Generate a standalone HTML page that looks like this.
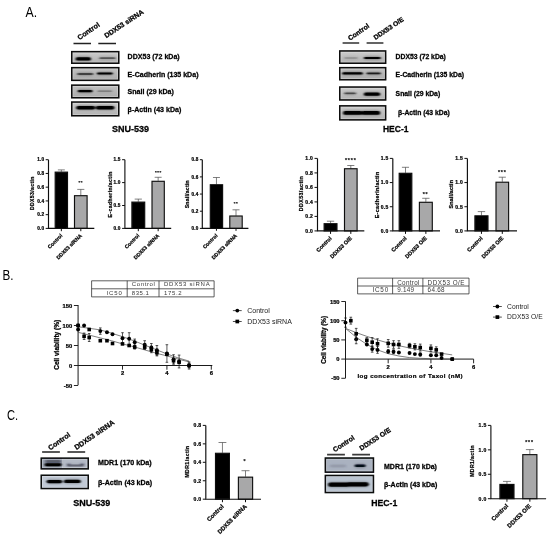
<!DOCTYPE html>
<html><head><meta charset="utf-8"><title>Figure</title>
<style>html,body{margin:0;padding:0;background:#fff}svg{display:block}</style></head>
<body>
<svg width="550" height="536" viewBox="0 0 550 536" font-family="Liberation Sans, Arial, sans-serif">
<defs><filter id="bl" x="-20%" y="-50%" width="140%" height="200%"><feGaussianBlur stdDeviation="1.1 0.42"/></filter><filter id="halo" x="-20%" y="-100%" width="140%" height="300%"><feGaussianBlur stdDeviation="1.6 0.9"/></filter><filter id="sb"><feGaussianBlur stdDeviation="0.35"/></filter><linearGradient id="g1" x1="0" y1="0" x2="0" y2="1"><stop offset="0" stop-color="#cecece"/><stop offset="1" stop-color="#b0b0b0"/></linearGradient><linearGradient id="g2" x1="0" y1="0" x2="0" y2="1"><stop offset="0" stop-color="#c4c4c4"/><stop offset="1" stop-color="#aaaaaa"/></linearGradient><linearGradient id="g3" x1="0" y1="0" x2="0" y2="1"><stop offset="0" stop-color="#d0d4d8"/><stop offset="1" stop-color="#c0c4c8"/></linearGradient></defs>
<rect width="550" height="536" fill="#fff"/>
<g filter="url(#sb)">
<text x="25.6" y="17" font-size="14.2" font-weight="normal" text-anchor="start" fill="#050505" font-family="Liberation Sans, sans-serif" textLength="11.6" lengthAdjust="spacingAndGlyphs">A.</text>
<text x="2.5" y="280.3" font-size="14.2" font-weight="normal" text-anchor="start" fill="#050505" font-family="Liberation Sans, sans-serif" textLength="11" lengthAdjust="spacingAndGlyphs">B.</text>
<text x="7" y="419.8" font-size="14.2" font-weight="normal" text-anchor="start" fill="#050505" font-family="Liberation Sans, sans-serif" textLength="11.2" lengthAdjust="spacingAndGlyphs">C.</text>
<path d="M73.5 43.5H91M98.3 43.5H116" stroke="#222" stroke-width="1.3"/>
<text x="79.5" y="40.2" font-size="7.1" font-weight="bold" text-anchor="start" fill="#050505" transform="rotate(-34.5 79.5 40.2)" stroke="#050505" stroke-width="0.27">Control</text>
<text x="106.2" y="38.2" font-size="7.0" font-weight="bold" text-anchor="start" fill="#050505" transform="rotate(-33.3 106.2 38.2)" stroke="#050505" stroke-width="0.27">DDX53 siRNA</text>
<clipPath id="bAc0"><rect x="71" y="50.9" width="48.5" height="13.1"/></clipPath>
<g clip-path="url(#bAc0)">
<rect x="71" y="50.9" width="48.5" height="13.1" fill="url(#g1)"/>
<g filter="url(#halo)">
<rect x="75.8" y="56.8" width="15.0" height="4.2" rx="2.1" fill="#000" opacity="0.35"/>
<rect x="99.4" y="56.85" width="15.9" height="2.7" rx="1.35" fill="#333" opacity="0.24"/>
</g><g filter="url(#bl)">
<rect x="75.8" y="57.3" width="15.0" height="3.2" rx="1.6" fill="#000" opacity="1"/>
<rect x="99.4" y="57.35" width="15.9" height="1.7" rx="0.85" fill="#333" opacity="0.7"/>
</g>
<rect x="72.9" y="52.8" width="44.7" height="9.3" fill="none" stroke="#fff" stroke-opacity="0.3" stroke-width="0.9"/>
</g>
<rect x="71.75" y="51.65" width="47.0" height="11.6" fill="none" stroke="#0a0a0a" stroke-width="1.5"/>
<clipPath id="bAc1"><rect x="71" y="66.9" width="48.5" height="14.2"/></clipPath>
<g clip-path="url(#bAc1)">
<rect x="71" y="66.9" width="48.5" height="14.2" fill="url(#g2)"/>
<g filter="url(#halo)">
<rect x="77.4" y="72.7" width="15.8" height="2.6" rx="1.3" fill="#111" opacity="0.3"/>
<rect x="97" y="71.9" width="15.6" height="3.0" rx="1.5" fill="#000" opacity="0.35"/>
</g><g filter="url(#bl)">
<rect x="77.4" y="73.2" width="15.8" height="1.6" rx="0.8" fill="#111" opacity="0.85"/>
<rect x="97" y="72.4" width="15.6" height="2.0" rx="1.0" fill="#000" opacity="1"/>
</g>
<rect x="72.9" y="68.8" width="44.7" height="10.4" fill="none" stroke="#fff" stroke-opacity="0.3" stroke-width="0.9"/>
</g>
<rect x="71.75" y="67.65" width="47.0" height="12.7" fill="none" stroke="#0a0a0a" stroke-width="1.5"/>
<clipPath id="bAc2"><rect x="71" y="84.4" width="48.5" height="14.1"/></clipPath>
<g clip-path="url(#bAc2)">
<rect x="71" y="84.4" width="48.5" height="14.1" fill="url(#g2)"/>
<g filter="url(#halo)">
<rect x="77.9" y="89.6" width="14.5" height="3.2" rx="1.6" fill="#000" opacity="0.35"/>
<rect x="97.6" y="90.05" width="14.4" height="2.3" rx="1.15" fill="#444" opacity="0.19"/>
</g><g filter="url(#bl)">
<rect x="77.9" y="90.1" width="14.5" height="2.2" rx="1.1" fill="#000" opacity="1"/>
<rect x="97.6" y="90.55" width="14.4" height="1.3" rx="0.65" fill="#444" opacity="0.55"/>
</g>
<rect x="72.9" y="86.3" width="44.7" height="10.3" fill="none" stroke="#fff" stroke-opacity="0.3" stroke-width="0.9"/>
</g>
<rect x="71.75" y="85.15" width="47.0" height="12.6" fill="none" stroke="#0a0a0a" stroke-width="1.5"/>
<clipPath id="bAc3"><rect x="71" y="101.3" width="48.5" height="15.2"/></clipPath>
<g clip-path="url(#bAc3)">
<rect x="71" y="101.3" width="48.5" height="15.2" fill="url(#g1)"/>
<g filter="url(#halo)">
<rect x="76.3" y="105.5" width="18.9" height="4.6" rx="2.3" fill="#000" opacity="0.35"/>
<rect x="95.8" y="105.55" width="18.5" height="4.5" rx="2.25" fill="#000" opacity="0.35"/>
</g><g filter="url(#bl)">
<rect x="76.3" y="106.0" width="18.9" height="3.6" rx="1.8" fill="#000" opacity="1"/>
<rect x="95.8" y="106.05" width="18.5" height="3.5" rx="1.75" fill="#000" opacity="1"/>
</g>
<rect x="72.9" y="103.2" width="44.7" height="11.4" fill="none" stroke="#fff" stroke-opacity="0.3" stroke-width="0.9"/>
</g>
<rect x="71.75" y="102.05" width="47.0" height="13.7" fill="none" stroke="#0a0a0a" stroke-width="1.5"/>
<text x="127.6" y="58.5" font-size="7.05" font-weight="bold" text-anchor="start" fill="#050505" stroke="#050505" stroke-width="0.27">DDX53 (72 kDa)</text>
<text x="127.6" y="76.5" font-size="7.05" font-weight="bold" text-anchor="start" fill="#050505" stroke="#050505" stroke-width="0.27">E-Cadherin (135 kDa)</text>
<text x="127.6" y="93.8" font-size="7.05" font-weight="bold" text-anchor="start" fill="#050505" stroke="#050505" stroke-width="0.27">Snail (29 kDa)</text>
<text x="127.6" y="111.7" font-size="7.05" font-weight="bold" text-anchor="start" fill="#050505" stroke="#050505" stroke-width="0.27">β-Actin (43 kDa)</text>
<text x="130.5" y="132" font-size="9" font-weight="bold" text-anchor="middle" fill="#050505" stroke="#050505" stroke-width="0.27">SNU-539</text>
<path d="M342.6 43H359.2M366.6 43H383.4" stroke="#333" stroke-width="1.5"/>
<text x="349.9" y="40.8" font-size="6.85" font-weight="bold" text-anchor="start" fill="#050505" transform="rotate(-34.5 349.9 40.8)" stroke="#050505" stroke-width="0.27">Control</text>
<text x="375.5" y="40" font-size="6.65" font-weight="bold" text-anchor="start" fill="#050505" transform="rotate(-34 375.5 40)" stroke="#050505" stroke-width="0.27">DDX53 O/E</text>
<clipPath id="bBc0"><rect x="339" y="50.2" width="47.4" height="13.8"/></clipPath>
<g clip-path="url(#bBc0)">
<rect x="339" y="50.2" width="47.4" height="13.8" fill="url(#g1)"/>
<g filter="url(#halo)">
<rect x="344.4" y="56.8" width="13.2" height="2.4" rx="1.2" fill="#555" opacity="0.14"/>
<rect x="364" y="56.4" width="16.6" height="3.2" rx="1.6" fill="#000" opacity="0.35"/>
</g><g filter="url(#bl)">
<rect x="344.4" y="57.3" width="13.2" height="1.4" rx="0.7" fill="#555" opacity="0.4"/>
<rect x="364" y="56.9" width="16.6" height="2.2" rx="1.1" fill="#000" opacity="1"/>
</g>
<rect x="340.9" y="52.1" width="43.6" height="10.0" fill="none" stroke="#fff" stroke-opacity="0.3" stroke-width="0.9"/>
</g>
<rect x="339.75" y="50.95" width="45.9" height="12.3" fill="none" stroke="#0a0a0a" stroke-width="1.5"/>
<clipPath id="bBc1"><rect x="339" y="66.9" width="47.4" height="13.6"/></clipPath>
<g clip-path="url(#bBc1)">
<rect x="339" y="66.9" width="47.4" height="13.6" fill="url(#g2)"/>
<g filter="url(#halo)">
<rect x="342.4" y="71.7" width="20.2" height="3.4" rx="1.7" fill="#000" opacity="0.35"/>
<rect x="366.7" y="72.0" width="13.9" height="2.8" rx="1.4" fill="#111" opacity="0.32"/>
</g><g filter="url(#bl)">
<rect x="342.4" y="72.2" width="20.2" height="2.4" rx="1.2" fill="#000" opacity="1"/>
<rect x="366.7" y="72.5" width="13.9" height="1.8" rx="0.9" fill="#111" opacity="0.9"/>
</g>
<rect x="340.9" y="68.8" width="43.6" height="9.8" fill="none" stroke="#fff" stroke-opacity="0.3" stroke-width="0.9"/>
</g>
<rect x="339.75" y="67.65" width="45.9" height="12.1" fill="none" stroke="#0a0a0a" stroke-width="1.5"/>
<clipPath id="bBc2"><rect x="339" y="86.3" width="47.4" height="14.4"/></clipPath>
<g clip-path="url(#bBc2)">
<rect x="339" y="86.3" width="47.4" height="14.4" fill="url(#g1)"/>
<g filter="url(#halo)">
<rect x="344.4" y="91.9" width="11.6" height="2.8" rx="1.4" fill="#222" opacity="0.24"/>
<rect x="364" y="92.05" width="16" height="4.3" rx="2.15" fill="#000" opacity="0.35"/>
</g><g filter="url(#bl)">
<rect x="344.4" y="92.4" width="11.6" height="1.8" rx="0.9" fill="#222" opacity="0.7"/>
<rect x="364" y="92.55" width="16" height="3.3" rx="1.65" fill="#000" opacity="1"/>
</g>
<rect x="340.9" y="88.2" width="43.6" height="10.6" fill="none" stroke="#fff" stroke-opacity="0.3" stroke-width="0.9"/>
</g>
<rect x="339.75" y="87.05" width="45.9" height="12.9" fill="none" stroke="#0a0a0a" stroke-width="1.5"/>
<clipPath id="bBc3"><rect x="339" y="105.1" width="47.4" height="15.5"/></clipPath>
<g clip-path="url(#bBc3)">
<rect x="339" y="105.1" width="47.4" height="15.5" fill="url(#g1)"/>
<g filter="url(#halo)">
<rect x="343.2" y="110.5" width="19.2" height="4.8" rx="2.4" fill="#000" opacity="0.35"/>
<rect x="361.6" y="110.5" width="18.4" height="4.8" rx="2.4" fill="#000" opacity="0.35"/>
</g><g filter="url(#bl)">
<rect x="343.2" y="111.0" width="19.2" height="3.8" rx="1.9" fill="#000" opacity="1"/>
<rect x="361.6" y="111.0" width="18.4" height="3.8" rx="1.9" fill="#000" opacity="1"/>
</g>
<rect x="340.9" y="107.0" width="43.6" height="11.7" fill="none" stroke="#fff" stroke-opacity="0.3" stroke-width="0.9"/>
</g>
<rect x="339.75" y="105.85" width="45.9" height="14.0" fill="none" stroke="#0a0a0a" stroke-width="1.5"/>
<text x="395.6" y="59" font-size="6.8" font-weight="bold" text-anchor="start" fill="#050505" stroke="#050505" stroke-width="0.27">DDX53 (72 kDa)</text>
<text x="395.6" y="76.5" font-size="6.8" font-weight="bold" text-anchor="start" fill="#050505" stroke="#050505" stroke-width="0.27">E-Cadherin (135 kDa)</text>
<text x="395.6" y="95.6" font-size="6.8" font-weight="bold" text-anchor="start" fill="#050505" stroke="#050505" stroke-width="0.27">Snail (29 kDa)</text>
<text x="398" y="115" font-size="6.8" font-weight="bold" text-anchor="start" fill="#050505" stroke="#050505" stroke-width="0.27">β-Actin (43 kDa)</text>
<text x="395.7" y="131.8" font-size="8.5" font-weight="bold" text-anchor="middle" fill="#050505" stroke="#050505" stroke-width="0.27">HEC-1</text>
<path d="M61.349999999999994 171.7225V169.9M57.87 169.9H64.83" stroke="#4a4a4a" stroke-width="0.7" fill="none"/>
<rect x="55.2" y="172.12" width="12.3" height="56.28" fill="#000" stroke="#111" stroke-width="1.15"/>
<path d="M80.80000000000001 195.2866V189.4M77.24000000000001 189.4H84.36000000000001" stroke="#4a4a4a" stroke-width="0.7" fill="none"/>
<rect x="74.5" y="195.69" width="12.6" height="32.71" fill="#a8a8a9" stroke="#111" stroke-width="1.15"/>
<path d="M48.5 159.7V228.4H94.3" stroke="#111" stroke-width="1.15" fill="none"/>
<path d="M45.7 228.4H48.5" stroke="#111" stroke-width="1"/>
<text x="44.300000000000004" y="230.092" font-size="4.7" font-weight="bold" text-anchor="end" fill="#050505" letter-spacing="0.2" stroke="#050505" stroke-width="0.24">0.0</text>
<path d="M45.7 214.66H48.5" stroke="#111" stroke-width="1"/>
<text x="44.300000000000004" y="216.352" font-size="4.7" font-weight="bold" text-anchor="end" fill="#050505" letter-spacing="0.2" stroke="#050505" stroke-width="0.24">0.2</text>
<path d="M45.7 200.92H48.5" stroke="#111" stroke-width="1"/>
<text x="44.300000000000004" y="202.612" font-size="4.7" font-weight="bold" text-anchor="end" fill="#050505" letter-spacing="0.2" stroke="#050505" stroke-width="0.24">0.4</text>
<path d="M45.7 187.18H48.5" stroke="#111" stroke-width="1"/>
<text x="44.300000000000004" y="188.872" font-size="4.7" font-weight="bold" text-anchor="end" fill="#050505" letter-spacing="0.2" stroke="#050505" stroke-width="0.24">0.6</text>
<path d="M45.7 173.44H48.5" stroke="#111" stroke-width="1"/>
<text x="44.300000000000004" y="175.132" font-size="4.7" font-weight="bold" text-anchor="end" fill="#050505" letter-spacing="0.2" stroke="#050505" stroke-width="0.24">0.8</text>
<path d="M45.7 159.7H48.5" stroke="#111" stroke-width="1"/>
<text x="44.300000000000004" y="161.392" font-size="4.7" font-weight="bold" text-anchor="end" fill="#050505" letter-spacing="0.2" stroke="#050505" stroke-width="0.24">1.0</text>
<path d="M61.349999999999994 228.4V231.20000000000002" stroke="#111" stroke-width="1"/>
<text x="62.849999999999994" y="236.0" font-size="5.2" font-weight="bold" text-anchor="end" fill="#050505" transform="rotate(-45 62.849999999999994 236.0)" stroke="#050505" stroke-width="0.24">Control</text>
<path d="M80.80000000000001 228.4V231.20000000000002" stroke="#111" stroke-width="1"/>
<text x="82.30000000000001" y="236.0" font-size="5.2" font-weight="bold" text-anchor="end" fill="#050505" transform="rotate(-45 82.30000000000001 236.0)" stroke="#050505" stroke-width="0.24">DDX53 siRNA</text>
<text x="33.6" y="210" font-size="5.1" font-weight="bold" text-anchor="start" fill="#050505" transform="rotate(-90 33.6 210)" textLength="33.5" lengthAdjust="spacing" stroke="#050505" stroke-width="0.24">DDX53/actin</text>
<text x="80.8" y="183.6" font-size="4.4" font-weight="bold" text-anchor="middle" fill="#222" letter-spacing="0.5" stroke="#222" stroke-width="0.24">**</text>
<path d="M138.3 201.6986V199.1M134.68 199.1H141.92000000000002" stroke="#4a4a4a" stroke-width="0.7" fill="none"/>
<rect x="131.9" y="202.1" width="12.8" height="26.3" fill="#000" stroke="#111" stroke-width="1.15"/>
<path d="M158.14999999999998 180.9054V177.3M154.67 177.3H161.62999999999997" stroke="#4a4a4a" stroke-width="0.7" fill="none"/>
<rect x="152.0" y="181.31" width="12.3" height="47.09" fill="#a8a8a9" stroke="#111" stroke-width="1.15"/>
<path d="M124.9 159.7V228.4H171.2" stroke="#111" stroke-width="1.15" fill="none"/>
<path d="M122.10000000000001 228.4H124.9" stroke="#111" stroke-width="1"/>
<text x="120.70000000000002" y="230.092" font-size="4.7" font-weight="bold" text-anchor="end" fill="#050505" letter-spacing="0.2" stroke="#050505" stroke-width="0.24">0.0</text>
<path d="M122.10000000000001 205.5H124.9" stroke="#111" stroke-width="1"/>
<text x="120.70000000000002" y="207.192" font-size="4.7" font-weight="bold" text-anchor="end" fill="#050505" letter-spacing="0.2" stroke="#050505" stroke-width="0.24">0.5</text>
<path d="M122.10000000000001 182.6H124.9" stroke="#111" stroke-width="1"/>
<text x="120.70000000000002" y="184.292" font-size="4.7" font-weight="bold" text-anchor="end" fill="#050505" letter-spacing="0.2" stroke="#050505" stroke-width="0.24">1.0</text>
<path d="M122.10000000000001 159.7H124.9" stroke="#111" stroke-width="1"/>
<text x="120.70000000000002" y="161.392" font-size="4.7" font-weight="bold" text-anchor="end" fill="#050505" letter-spacing="0.2" stroke="#050505" stroke-width="0.24">1.5</text>
<path d="M138.3 228.4V231.20000000000002" stroke="#111" stroke-width="1"/>
<text x="139.8" y="236.0" font-size="5.2" font-weight="bold" text-anchor="end" fill="#050505" transform="rotate(-45 139.8 236.0)" stroke="#050505" stroke-width="0.24">Control</text>
<path d="M158.14999999999998 228.4V231.20000000000002" stroke="#111" stroke-width="1"/>
<text x="159.64999999999998" y="236.0" font-size="5.2" font-weight="bold" text-anchor="end" fill="#050505" transform="rotate(-45 159.64999999999998 236.0)" stroke="#050505" stroke-width="0.24">DDX53 siRNA</text>
<text x="111.8" y="217.4" font-size="5.1" font-weight="bold" text-anchor="start" fill="#050505" transform="rotate(-90 111.8 217.4)" textLength="45.8" lengthAdjust="spacing" stroke="#050505" stroke-width="0.24">E-cadherin/actin</text>
<text x="158.3" y="174.2" font-size="4.4" font-weight="bold" text-anchor="middle" fill="#222" letter-spacing="0.5" stroke="#222" stroke-width="0.24">***</text>
<path d="M216.45 184.346125V177.5M212.97 177.5H219.92999999999998" stroke="#4a4a4a" stroke-width="0.7" fill="none"/>
<rect x="210.3" y="184.75" width="12.3" height="43.65" fill="#000" stroke="#111" stroke-width="1.15"/>
<path d="M236.0 215.604625V209.8M232.49 209.8H239.51" stroke="#4a4a4a" stroke-width="0.7" fill="none"/>
<rect x="229.8" y="216.0" width="12.4" height="12.4" fill="#a8a8a9" stroke="#111" stroke-width="1.15"/>
<path d="M202.3 159.7V228.4H248.4" stroke="#111" stroke-width="1.15" fill="none"/>
<path d="M199.9 228.4H202.3" stroke="#111" stroke-width="1"/>
<text x="198.5" y="230.056" font-size="4.6" font-weight="bold" text-anchor="end" fill="#050505" letter-spacing="0.2" stroke="#050505" stroke-width="0.24">0.0</text>
<path d="M199.9 211.225H202.3" stroke="#111" stroke-width="1"/>
<text x="198.5" y="212.881" font-size="4.6" font-weight="bold" text-anchor="end" fill="#050505" letter-spacing="0.2" stroke="#050505" stroke-width="0.24">0.2</text>
<path d="M199.9 194.05H202.3" stroke="#111" stroke-width="1"/>
<text x="198.5" y="195.70600000000002" font-size="4.6" font-weight="bold" text-anchor="end" fill="#050505" letter-spacing="0.2" stroke="#050505" stroke-width="0.24">0.4</text>
<path d="M199.9 176.875H202.3" stroke="#111" stroke-width="1"/>
<text x="198.5" y="178.531" font-size="4.6" font-weight="bold" text-anchor="end" fill="#050505" letter-spacing="0.2" stroke="#050505" stroke-width="0.24">0.6</text>
<path d="M199.9 159.7H202.3" stroke="#111" stroke-width="1"/>
<text x="198.5" y="161.356" font-size="4.6" font-weight="bold" text-anchor="end" fill="#050505" letter-spacing="0.2" stroke="#050505" stroke-width="0.24">0.8</text>
<path d="M216.45 228.4V230.8" stroke="#111" stroke-width="1"/>
<text x="217.95" y="236.0" font-size="5.2" font-weight="bold" text-anchor="end" fill="#050505" transform="rotate(-45 217.95 236.0)" stroke="#050505" stroke-width="0.24">Control</text>
<path d="M236.0 228.4V230.8" stroke="#111" stroke-width="1"/>
<text x="237.5" y="236.0" font-size="5.2" font-weight="bold" text-anchor="end" fill="#050505" transform="rotate(-45 237.5 236.0)" stroke="#050505" stroke-width="0.24">DDX53 siRNA</text>
<text x="189.3" y="208.3" font-size="5.1" font-weight="bold" text-anchor="start" fill="#050505" transform="rotate(-90 189.3 208.3)" textLength="28" lengthAdjust="spacing" stroke="#050505" stroke-width="0.24">Snail/actin</text>
<text x="236" y="204.8" font-size="4.4" font-weight="bold" text-anchor="middle" fill="#222" letter-spacing="0.5" stroke="#222" stroke-width="0.24">**</text>
<path d="M330.55 223.2875V221.2M326.90000000000003 221.2H334.2" stroke="#4a4a4a" stroke-width="0.7" fill="none"/>
<rect x="324.1" y="223.69" width="12.9" height="7.21" fill="#000" stroke="#111" stroke-width="1.15"/>
<path d="M350.79999999999995 168.3325V165.5M347.23999999999995 165.5H354.35999999999996" stroke="#4a4a4a" stroke-width="0.7" fill="none"/>
<rect x="344.5" y="168.73" width="12.6" height="62.17" fill="#a8a8a9" stroke="#111" stroke-width="1.15"/>
<path d="M317.5 158.4V230.9H364.3" stroke="#111" stroke-width="1.15" fill="none"/>
<path d="M314.5 230.9H317.5" stroke="#111" stroke-width="1"/>
<text x="313.2" y="232.70000000000002" font-size="5.0" font-weight="bold" text-anchor="end" fill="#050505" letter-spacing="0.3" stroke="#050505" stroke-width="0.24">0.0</text>
<path d="M314.5 216.4H317.5" stroke="#111" stroke-width="1"/>
<text x="313.2" y="218.20000000000002" font-size="5.0" font-weight="bold" text-anchor="end" fill="#050505" letter-spacing="0.3" stroke="#050505" stroke-width="0.24">0.2</text>
<path d="M314.5 201.9H317.5" stroke="#111" stroke-width="1"/>
<text x="313.2" y="203.70000000000002" font-size="5.0" font-weight="bold" text-anchor="end" fill="#050505" letter-spacing="0.3" stroke="#050505" stroke-width="0.24">0.4</text>
<path d="M314.5 187.4H317.5" stroke="#111" stroke-width="1"/>
<text x="313.2" y="189.20000000000002" font-size="5.0" font-weight="bold" text-anchor="end" fill="#050505" letter-spacing="0.3" stroke="#050505" stroke-width="0.24">0.6</text>
<path d="M314.5 172.9H317.5" stroke="#111" stroke-width="1"/>
<text x="313.2" y="174.70000000000002" font-size="5.0" font-weight="bold" text-anchor="end" fill="#050505" letter-spacing="0.3" stroke="#050505" stroke-width="0.24">0.8</text>
<path d="M314.5 158.4H317.5" stroke="#111" stroke-width="1"/>
<text x="313.2" y="160.20000000000002" font-size="5.0" font-weight="bold" text-anchor="end" fill="#050505" letter-spacing="0.3" stroke="#050505" stroke-width="0.24">1.0</text>
<path d="M330.55 230.9V233.9" stroke="#111" stroke-width="1"/>
<text x="332.15000000000003" y="238.70000000000002" font-size="5.45" font-weight="bold" text-anchor="end" fill="#050505" transform="rotate(-45 332.15000000000003 238.70000000000002)" stroke="#050505" stroke-width="0.24">Control</text>
<path d="M350.79999999999995 230.9V233.9" stroke="#111" stroke-width="1"/>
<text x="352.4" y="238.70000000000002" font-size="5.45" font-weight="bold" text-anchor="end" fill="#050505" transform="rotate(-45 352.4 238.70000000000002)" stroke="#050505" stroke-width="0.24">DDX53 O/E</text>
<text x="303.5" y="211.2" font-size="5.3" font-weight="bold" text-anchor="start" fill="#050505" transform="rotate(-90 303.5 211.2)" textLength="34.9" lengthAdjust="spacing" stroke="#050505" stroke-width="0.24">DDX53/actin</text>
<text x="350.8" y="162" font-size="5.2" font-weight="bold" text-anchor="middle" fill="#222" letter-spacing="0.9" stroke="#222" stroke-width="0.24">****</text>
<path d="M405.5 172.9V167.3M401.94 167.3H409.06" stroke="#4a4a4a" stroke-width="0.7" fill="none"/>
<rect x="399.2" y="173.3" width="12.6" height="57.6" fill="#000" stroke="#111" stroke-width="1.15"/>
<path d="M425.85 201.9V198.3M422.20000000000005 198.3H429.5" stroke="#4a4a4a" stroke-width="0.7" fill="none"/>
<rect x="419.4" y="202.3" width="12.9" height="28.6" fill="#a8a8a9" stroke="#111" stroke-width="1.15"/>
<path d="M392.8 158.4V230.9H440" stroke="#111" stroke-width="1.15" fill="none"/>
<path d="M389.8 230.9H392.8" stroke="#111" stroke-width="1"/>
<text x="388.5" y="232.70000000000002" font-size="5.0" font-weight="bold" text-anchor="end" fill="#050505" letter-spacing="0.3" stroke="#050505" stroke-width="0.24">0.0</text>
<path d="M389.8 206.73333333333335H392.8" stroke="#111" stroke-width="1"/>
<text x="388.5" y="208.53333333333336" font-size="5.0" font-weight="bold" text-anchor="end" fill="#050505" letter-spacing="0.3" stroke="#050505" stroke-width="0.24">0.5</text>
<path d="M389.8 182.56666666666666H392.8" stroke="#111" stroke-width="1"/>
<text x="388.5" y="184.36666666666667" font-size="5.0" font-weight="bold" text-anchor="end" fill="#050505" letter-spacing="0.3" stroke="#050505" stroke-width="0.24">1.0</text>
<path d="M389.8 158.4H392.8" stroke="#111" stroke-width="1"/>
<text x="388.5" y="160.20000000000002" font-size="5.0" font-weight="bold" text-anchor="end" fill="#050505" letter-spacing="0.3" stroke="#050505" stroke-width="0.24">1.5</text>
<path d="M405.5 230.9V233.9" stroke="#111" stroke-width="1"/>
<text x="407.1" y="238.70000000000002" font-size="5.45" font-weight="bold" text-anchor="end" fill="#050505" transform="rotate(-45 407.1 238.70000000000002)" stroke="#050505" stroke-width="0.24">Control</text>
<path d="M425.85 230.9V233.9" stroke="#111" stroke-width="1"/>
<text x="427.45000000000005" y="238.70000000000002" font-size="5.45" font-weight="bold" text-anchor="end" fill="#050505" transform="rotate(-45 427.45000000000005 238.70000000000002)" stroke="#050505" stroke-width="0.24">DDX53 O/E</text>
<text x="379.2" y="218.3" font-size="5.3" font-weight="bold" text-anchor="start" fill="#050505" transform="rotate(-90 379.2 218.3)" textLength="46.5" lengthAdjust="spacing" stroke="#050505" stroke-width="0.24">E-cadherin/actin</text>
<text x="425.6" y="195.6" font-size="5.2" font-weight="bold" text-anchor="middle" fill="#222" letter-spacing="0.9" stroke="#222" stroke-width="0.24">**</text>
<path d="M481.45000000000005 215.43333333333334V211.6M477.75000000000006 211.6H485.15000000000003" stroke="#4a4a4a" stroke-width="0.7" fill="none"/>
<rect x="474.9" y="215.83" width="13.1" height="15.07" fill="#000" stroke="#111" stroke-width="1.15"/>
<path d="M502.29999999999995 181.84166666666667V177.2M498.73999999999995 177.2H505.85999999999996" stroke="#4a4a4a" stroke-width="0.7" fill="none"/>
<rect x="496.0" y="182.24" width="12.6" height="48.66" fill="#a8a8a9" stroke="#111" stroke-width="1.15"/>
<path d="M467.4 158.4V230.9H517" stroke="#111" stroke-width="1.15" fill="none"/>
<path d="M464.4 230.9H467.4" stroke="#111" stroke-width="1"/>
<text x="463.09999999999997" y="232.70000000000002" font-size="5.0" font-weight="bold" text-anchor="end" fill="#050505" letter-spacing="0.3" stroke="#050505" stroke-width="0.24">0.0</text>
<path d="M464.4 206.73333333333335H467.4" stroke="#111" stroke-width="1"/>
<text x="463.09999999999997" y="208.53333333333336" font-size="5.0" font-weight="bold" text-anchor="end" fill="#050505" letter-spacing="0.3" stroke="#050505" stroke-width="0.24">0.5</text>
<path d="M464.4 182.56666666666666H467.4" stroke="#111" stroke-width="1"/>
<text x="463.09999999999997" y="184.36666666666667" font-size="5.0" font-weight="bold" text-anchor="end" fill="#050505" letter-spacing="0.3" stroke="#050505" stroke-width="0.24">1.0</text>
<path d="M464.4 158.4H467.4" stroke="#111" stroke-width="1"/>
<text x="463.09999999999997" y="160.20000000000002" font-size="5.0" font-weight="bold" text-anchor="end" fill="#050505" letter-spacing="0.3" stroke="#050505" stroke-width="0.24">1.5</text>
<path d="M481.45000000000005 230.9V233.9" stroke="#111" stroke-width="1"/>
<text x="483.05000000000007" y="238.70000000000002" font-size="5.45" font-weight="bold" text-anchor="end" fill="#050505" transform="rotate(-45 483.05000000000007 238.70000000000002)" stroke="#050505" stroke-width="0.24">Control</text>
<path d="M502.29999999999995 230.9V233.9" stroke="#111" stroke-width="1"/>
<text x="503.9" y="238.70000000000002" font-size="5.45" font-weight="bold" text-anchor="end" fill="#050505" transform="rotate(-45 503.9 238.70000000000002)" stroke="#050505" stroke-width="0.24">DDX53 O/E</text>
<text x="452.8" y="208.5" font-size="5.3" font-weight="bold" text-anchor="start" fill="#050505" transform="rotate(-90 452.8 208.5)" textLength="28.5" lengthAdjust="spacing" stroke="#050505" stroke-width="0.24">Snail/actin</text>
<text x="502.3" y="174.2" font-size="5.2" font-weight="bold" text-anchor="middle" fill="#222" letter-spacing="0.9" stroke="#222" stroke-width="0.24">***</text>
<path d="M91.6 280.8H214.1V296.9H91.6ZM91.6 288.8H214.1M127.2 280.8V296.9M159 280.8V296.9" fill="none" stroke="#2a2a2a" stroke-width="0.75"/>
<text x="131.8" y="286.4" font-size="6.0" font-weight="normal" text-anchor="start" fill="#3a3a3a" textLength="23" lengthAdjust="spacing">Control</text>
<text x="163.9" y="286.4" font-size="6.0" font-weight="normal" text-anchor="start" fill="#3a3a3a" textLength="45.8" lengthAdjust="spacing">DDX53 siRNA</text>
<text x="106.5" y="294.6" font-size="6.0" font-weight="normal" text-anchor="start" fill="#3a3a3a" textLength="15.3" lengthAdjust="spacing">IC50</text>
<text x="131.8" y="294.6" font-size="6.0" font-weight="normal" text-anchor="start" fill="#3a3a3a" textLength="17" lengthAdjust="spacing">835.1</text>
<text x="163.9" y="294.6" font-size="6.0" font-weight="normal" text-anchor="start" fill="#3a3a3a" textLength="17.8" lengthAdjust="spacing">175.2</text>
<path d="M357.6 278.1H469V293.9H357.6ZM357.6 286H469M392.6 278.1V293.9M422.9 278.1V293.9" fill="none" stroke="#2a2a2a" stroke-width="0.75"/>
<text x="397.2" y="284.5" font-size="6.3" font-weight="normal" text-anchor="start" fill="#3a3a3a" textLength="22.2" lengthAdjust="spacing">Control</text>
<text x="427.6" y="284.5" font-size="6.3" font-weight="normal" text-anchor="start" fill="#3a3a3a" textLength="36.9" lengthAdjust="spacing">DDX53 O/E</text>
<text x="372.4" y="292.1" font-size="6.3" font-weight="normal" text-anchor="start" fill="#3a3a3a" textLength="15.8" lengthAdjust="spacing">IC50</text>
<text x="397.2" y="292.1" font-size="6.3" font-weight="normal" text-anchor="start" fill="#3a3a3a" textLength="16.9" lengthAdjust="spacing">9.149</text>
<text x="427.6" y="292.1" font-size="6.3" font-weight="normal" text-anchor="start" fill="#3a3a3a" textLength="16.9" lengthAdjust="spacing">64.68</text>
<path d="M78.1 305V385.1M78.1 365.5H212.3" stroke="#111" stroke-width="0.95" fill="none"/>
<path d="M73.89999999999999 385.5H78.1" stroke="#111" stroke-width="0.9"/>
<text x="72.19999999999999" y="387.588" font-size="5.8" font-weight="bold" text-anchor="end" fill="#050505" stroke="#050505" stroke-width="0.24">-50</text>
<path d="M73.89999999999999 365.5H78.1" stroke="#111" stroke-width="0.9"/>
<text x="72.19999999999999" y="367.588" font-size="5.8" font-weight="bold" text-anchor="end" fill="#050505" stroke="#050505" stroke-width="0.24">0</text>
<path d="M73.89999999999999 345.5H78.1" stroke="#111" stroke-width="0.9"/>
<text x="72.19999999999999" y="347.588" font-size="5.8" font-weight="bold" text-anchor="end" fill="#050505" stroke="#050505" stroke-width="0.24">50</text>
<path d="M73.89999999999999 325.5H78.1" stroke="#111" stroke-width="0.9"/>
<text x="72.19999999999999" y="327.588" font-size="5.8" font-weight="bold" text-anchor="end" fill="#050505" stroke="#050505" stroke-width="0.24">100</text>
<path d="M73.89999999999999 305.5H78.1" stroke="#111" stroke-width="0.9"/>
<text x="72.19999999999999" y="307.588" font-size="5.8" font-weight="bold" text-anchor="end" fill="#050505" stroke="#050505" stroke-width="0.24">150</text>
<path d="M122.5 365.5V369.7" stroke="#111" stroke-width="0.9"/>
<text x="122.5" y="375.3" font-size="5.8" font-weight="bold" text-anchor="middle" fill="#050505" stroke="#050505" stroke-width="0.24">2</text>
<path d="M166.89999999999998 365.5V369.7" stroke="#111" stroke-width="0.9"/>
<text x="166.89999999999998" y="375.3" font-size="5.8" font-weight="bold" text-anchor="middle" fill="#050505" stroke="#050505" stroke-width="0.24">4</text>
<path d="M211.29999999999998 365.5V369.7" stroke="#111" stroke-width="0.9"/>
<text x="211.29999999999998" y="375.3" font-size="5.8" font-weight="bold" text-anchor="middle" fill="#050505" stroke="#050505" stroke-width="0.24">6</text>
<text x="58.6" y="369.8" font-size="6.6" font-weight="bold" text-anchor="start" fill="#050505" transform="rotate(-90 58.6 369.8)" textLength="50" lengthAdjust="spacing" stroke="#050505" stroke-width="0.27">Cell viability (%)</text>
<path d="M78.1 326.7 L100.3 329.9 L111.4 333.1 L122.5 336.7 L133.6 340.7 L144.7 345.1 L155.8 349.5 L166.9 353.9 L178.0 357.9 L189.1 361.1" stroke="#4a4a4a" stroke-width="0.7" fill="none"/>
<path d="M78.1 332.3 L89.2 335.1 L100.3 337.9 L111.4 340.7 L122.5 343.9 L133.6 346.7 L144.7 349.9 L155.8 353.1 L166.9 355.9 L178.0 359.1 L189.1 361.9" stroke="#4a4a4a" stroke-width="0.7" fill="none"/>
<circle cx="78.1" cy="325.5" r="1.95" fill="#000"/>
<circle cx="78.1" cy="329.5" r="1.95" fill="#000"/>
<circle cx="84.094" cy="325.5" r="1.95" fill="#000"/>
<path d="M100.3 327.90000000000003V334.3M99.0 327.90000000000003H101.6M99.0 334.3H101.6" stroke="#111" stroke-width="0.7"/>
<circle cx="100.3" cy="331.1" r="1.95" fill="#000"/>
<circle cx="106.96" cy="332.3" r="1.95" fill="#000"/>
<circle cx="112.50999999999999" cy="334.3" r="1.95" fill="#000"/>
<path d="M122.5 332.7V343.90000000000003M121.2 332.7H123.8M121.2 343.90000000000003H123.8" stroke="#111" stroke-width="0.7"/>
<circle cx="122.5" cy="338.3" r="1.95" fill="#000"/>
<path d="M129.16 332.7V344.7M127.86 332.7H130.46M127.86 344.7H130.46" stroke="#111" stroke-width="0.7"/>
<circle cx="129.16" cy="338.7" r="1.95" fill="#000"/>
<path d="M134.70999999999998 339.1V345.5M133.40999999999997 339.1H136.01M133.40999999999997 345.5H136.01" stroke="#111" stroke-width="0.7"/>
<circle cx="134.70999999999998" cy="342.3" r="1.95" fill="#000"/>
<path d="M144.7 340.7V348.7M143.39999999999998 340.7H146.0M143.39999999999998 348.7H146.0" stroke="#111" stroke-width="0.7"/>
<circle cx="144.7" cy="344.7" r="1.95" fill="#000"/>
<path d="M151.35999999999999 343.5V351.5M150.05999999999997 343.5H152.66M150.05999999999997 351.5H152.66" stroke="#111" stroke-width="0.7"/>
<circle cx="151.35999999999999" cy="347.5" r="1.95" fill="#000"/>
<path d="M156.90999999999997 345.5V355.1M155.60999999999996 345.5H158.20999999999998M155.60999999999996 355.1H158.20999999999998" stroke="#111" stroke-width="0.7"/>
<circle cx="156.90999999999997" cy="350.3" r="1.95" fill="#000"/>
<path d="M166.89999999999998 344.7V362.3M165.59999999999997 344.7H168.2M165.59999999999997 362.3H168.2" stroke="#111" stroke-width="0.7"/>
<circle cx="166.89999999999998" cy="353.5" r="1.95" fill="#000"/>
<path d="M173.56 354.7V364.3M172.26 354.7H174.86M172.26 364.3H174.86" stroke="#111" stroke-width="0.7"/>
<circle cx="173.56" cy="359.5" r="1.95" fill="#000"/>
<path d="M179.10999999999999 355.1V367.9M177.80999999999997 355.1H180.41M177.80999999999997 367.9H180.41" stroke="#111" stroke-width="0.7"/>
<circle cx="179.10999999999999" cy="361.5" r="1.95" fill="#000"/>
<path d="M189.1 361.9V369.1M187.79999999999998 361.9H190.4M187.79999999999998 369.1H190.4" stroke="#111" stroke-width="0.7"/>
<circle cx="189.1" cy="365.5" r="1.95" fill="#000"/>
<rect x="76.3" y="323.7" width="3.6" height="3.6" fill="#000"/>
<rect x="87.39999999999999" y="327.7" width="3.6" height="3.6" fill="#000"/>
<path d="M84.094 333.1V339.5M82.794 333.1H85.39399999999999M82.794 339.5H85.39399999999999" stroke="#111" stroke-width="0.7"/>
<rect x="82.294" y="334.5" width="3.6" height="3.6" fill="#000"/>
<path d="M89.19999999999999 333.5V341.5M87.89999999999999 333.5H90.49999999999999M87.89999999999999 341.5H90.49999999999999" stroke="#111" stroke-width="0.7"/>
<rect x="87.39999999999999" y="335.7" width="3.6" height="3.6" fill="#000"/>
<rect x="98.5" y="338.9" width="3.6" height="3.6" fill="#000"/>
<rect x="105.16" y="338.9" width="3.6" height="3.6" fill="#000"/>
<rect x="110.71" y="341.7" width="3.6" height="3.6" fill="#000"/>
<rect x="120.7" y="342.09999999999997" width="3.6" height="3.6" fill="#000"/>
<rect x="127.36" y="343.7" width="3.6" height="3.6" fill="#000"/>
<path d="M134.70999999999998 345.1V349.1M133.40999999999997 345.1H136.01M133.40999999999997 349.1H136.01" stroke="#111" stroke-width="0.7"/>
<rect x="132.90999999999997" y="345.3" width="3.6" height="3.6" fill="#000"/>
<path d="M144.7 344.70000000000005V349.5M143.39999999999998 344.70000000000005H146.0M143.39999999999998 349.5H146.0" stroke="#111" stroke-width="0.7"/>
<rect x="142.89999999999998" y="345.3" width="3.6" height="3.6" fill="#000"/>
<path d="M151.35999999999999 346.3V352.7M150.05999999999997 346.3H152.66M150.05999999999997 352.7H152.66" stroke="#111" stroke-width="0.7"/>
<rect x="149.55999999999997" y="347.7" width="3.6" height="3.6" fill="#000"/>
<path d="M156.90999999999997 349.5V355.9M155.60999999999996 349.5H158.20999999999998M155.60999999999996 355.9H158.20999999999998" stroke="#111" stroke-width="0.7"/>
<rect x="155.10999999999996" y="350.9" width="3.6" height="3.6" fill="#000"/>
<rect x="165.09999999999997" y="352.5" width="3.6" height="3.6" fill="#000"/>
<path d="M173.56 358.3V363.09999999999997M172.26 358.3H174.86M172.26 363.09999999999997H174.86" stroke="#111" stroke-width="0.7"/>
<rect x="171.76" y="358.9" width="3.6" height="3.6" fill="#000"/>
<rect x="177.30999999999997" y="360.5" width="3.6" height="3.6" fill="#000"/>
<path d="M189.1 363.1V367.9M187.79999999999998 363.1H190.4M187.79999999999998 367.9H190.4" stroke="#111" stroke-width="0.7"/>
<rect x="187.29999999999998" y="363.7" width="3.6" height="3.6" fill="#000"/>
<path d="M345.5 301.4V378.2M345.5 359.1H473.6" stroke="#111" stroke-width="0.95" fill="none"/>
<path d="M341.3 378.3H345.5" stroke="#111" stroke-width="0.9"/>
<text x="339.6" y="380.38800000000003" font-size="5.8" font-weight="bold" text-anchor="end" fill="#050505" stroke="#050505" stroke-width="0.24">-50</text>
<path d="M341.3 359.1H345.5" stroke="#111" stroke-width="0.9"/>
<text x="339.6" y="361.18800000000005" font-size="5.8" font-weight="bold" text-anchor="end" fill="#050505" stroke="#050505" stroke-width="0.24">0</text>
<path d="M341.3 339.90000000000003H345.5" stroke="#111" stroke-width="0.9"/>
<text x="339.6" y="341.98800000000006" font-size="5.8" font-weight="bold" text-anchor="end" fill="#050505" stroke="#050505" stroke-width="0.24">50</text>
<path d="M341.3 320.70000000000005H345.5" stroke="#111" stroke-width="0.9"/>
<text x="339.6" y="322.78800000000007" font-size="5.8" font-weight="bold" text-anchor="end" fill="#050505" stroke="#050505" stroke-width="0.24">100</text>
<path d="M341.3 301.5H345.5" stroke="#111" stroke-width="0.9"/>
<text x="339.6" y="303.588" font-size="5.8" font-weight="bold" text-anchor="end" fill="#050505" stroke="#050505" stroke-width="0.24">150</text>
<path d="M388.2 359.1V363.3" stroke="#111" stroke-width="0.9"/>
<text x="388.2" y="368.90000000000003" font-size="5.8" font-weight="bold" text-anchor="middle" fill="#050505" stroke="#050505" stroke-width="0.24">2</text>
<path d="M430.9 359.1V363.3" stroke="#111" stroke-width="0.9"/>
<text x="430.9" y="368.90000000000003" font-size="5.8" font-weight="bold" text-anchor="middle" fill="#050505" stroke="#050505" stroke-width="0.24">4</text>
<path d="M473.6 359.1V363.3" stroke="#111" stroke-width="0.9"/>
<text x="473.6" y="368.90000000000003" font-size="5.8" font-weight="bold" text-anchor="middle" fill="#050505" stroke="#050505" stroke-width="0.24">6</text>
<text x="325.7" y="363.7" font-size="6.4" font-weight="bold" text-anchor="start" fill="#050505" transform="rotate(-90 325.7 363.7)" textLength="47.8" lengthAdjust="spacing" stroke="#050505" stroke-width="0.24">Cell viability (%)</text>
<path d="M345.5 328.4 L356.2 337.2 L366.9 344.5 L377.5 349.9 L388.2 353.7 L398.9 356.0 L409.6 357.6 L420.2 358.3 L430.9 358.7 L452.2 359.1" stroke="#4a4a4a" stroke-width="0.7" fill="none"/>
<path d="M345.5 328.4 L356.2 332.6 L366.9 336.4 L377.5 339.9 L388.2 343.0 L398.9 345.7 L409.6 348.0 L420.2 349.9 L430.9 351.8 L441.6 353.3 L452.2 354.9" stroke="#4a4a4a" stroke-width="0.7" fill="none"/>
<path d="M345.5 318.012V327.228M344.2 318.012H346.8M344.2 327.228H346.8" stroke="#111" stroke-width="0.7"/>
<circle cx="345.5" cy="322.62" r="1.95" fill="#000"/>
<path d="M356.175 334.524V343.74M354.875 334.524H357.475M354.875 343.74H357.475" stroke="#111" stroke-width="0.7"/>
<circle cx="356.175" cy="339.132" r="1.95" fill="#000"/>
<circle cx="366.85" cy="344.50800000000004" r="1.95" fill="#000"/>
<path d="M372.1875 346.04400000000004V352.18800000000005M370.8875 346.04400000000004H373.4875M370.8875 352.18800000000005H373.4875" stroke="#111" stroke-width="0.7"/>
<circle cx="372.1875" cy="349.11600000000004" r="1.95" fill="#000"/>
<path d="M377.525 346.428V353.34000000000003M376.22499999999997 346.428H378.825M376.22499999999997 353.34000000000003H378.825" stroke="#111" stroke-width="0.7"/>
<circle cx="377.525" cy="349.884" r="1.95" fill="#000"/>
<path d="M388.2 349.5V353.34000000000003M386.9 349.5H389.5M386.9 353.34000000000003H389.5" stroke="#111" stroke-width="0.7"/>
<circle cx="388.2" cy="351.42" r="1.95" fill="#000"/>
<path d="M393.5375 349.884V353.72400000000005M392.2375 349.884H394.83750000000003M392.2375 353.72400000000005H394.83750000000003" stroke="#111" stroke-width="0.7"/>
<circle cx="393.5375" cy="351.80400000000003" r="1.95" fill="#000"/>
<circle cx="398.875" cy="352.572" r="1.95" fill="#000"/>
<circle cx="409.55" cy="352.956" r="1.95" fill="#000"/>
<circle cx="414.8875" cy="354.108" r="1.95" fill="#000"/>
<path d="M420.225 352.956V356.028M418.925 352.956H421.52500000000003M418.925 356.028H421.52500000000003" stroke="#111" stroke-width="0.7"/>
<circle cx="420.225" cy="354.492" r="1.95" fill="#000"/>
<circle cx="430.9" cy="355.26000000000005" r="1.95" fill="#000"/>
<circle cx="436.2375" cy="355.26000000000005" r="1.95" fill="#000"/>
<circle cx="441.575" cy="357.94800000000004" r="1.95" fill="#000"/>
<circle cx="452.25" cy="359.1" r="1.95" fill="#000"/>
<path d="M350.8375 317.244V324.15600000000006M349.53749999999997 317.244H352.1375M349.53749999999997 324.15600000000006H352.1375" stroke="#111" stroke-width="0.7"/>
<rect x="349.03749999999997" y="318.90000000000003" width="3.6" height="3.6" fill="#000"/>
<path d="M356.175 328.38000000000005V339.132M354.875 328.38000000000005H357.475M354.875 339.132H357.475" stroke="#111" stroke-width="0.7"/>
<rect x="354.375" y="331.956" width="3.6" height="3.6" fill="#000"/>
<path d="M366.85 337.59600000000006V342.97200000000004M365.55 337.59600000000006H368.15000000000003M365.55 342.97200000000004H368.15000000000003" stroke="#111" stroke-width="0.7"/>
<rect x="365.05" y="338.48400000000004" width="3.6" height="3.6" fill="#000"/>
<path d="M372.1875 337.596V346.812M370.8875 337.596H373.4875M370.8875 346.812H373.4875" stroke="#111" stroke-width="0.7"/>
<rect x="370.3875" y="340.404" width="3.6" height="3.6" fill="#000"/>
<path d="M377.525 338.748V348.732M376.22499999999997 338.748H378.825M376.22499999999997 348.732H378.825" stroke="#111" stroke-width="0.7"/>
<rect x="375.72499999999997" y="341.94" width="3.6" height="3.6" fill="#000"/>
<path d="M388.2 339.516V347.19599999999997M386.9 339.516H389.5M386.9 347.19599999999997H389.5" stroke="#111" stroke-width="0.7"/>
<rect x="386.4" y="341.556" width="3.6" height="3.6" fill="#000"/>
<path d="M393.5375 340.66800000000006V348.348M392.2375 340.66800000000006H394.83750000000003M392.2375 348.348H394.83750000000003" stroke="#111" stroke-width="0.7"/>
<rect x="391.7375" y="342.708" width="3.6" height="3.6" fill="#000"/>
<path d="M398.875 340.66800000000006V348.348M397.575 340.66800000000006H400.175M397.575 348.348H400.175" stroke="#111" stroke-width="0.7"/>
<rect x="397.075" y="342.708" width="3.6" height="3.6" fill="#000"/>
<path d="M409.55 343.35600000000005V347.964M408.25 343.35600000000005H410.85M408.25 347.964H410.85" stroke="#111" stroke-width="0.7"/>
<rect x="407.75" y="343.86" width="3.6" height="3.6" fill="#000"/>
<path d="M414.8875 343.74V349.884M413.5875 343.74H416.1875M413.5875 349.884H416.1875" stroke="#111" stroke-width="0.7"/>
<rect x="413.0875" y="345.012" width="3.6" height="3.6" fill="#000"/>
<path d="M420.225 344.124V351.03600000000006M418.925 344.124H421.52500000000003M418.925 351.03600000000006H421.52500000000003" stroke="#111" stroke-width="0.7"/>
<rect x="418.425" y="345.78000000000003" width="3.6" height="3.6" fill="#000"/>
<path d="M430.9 344.892V351.80400000000003M429.59999999999997 344.892H432.2M429.59999999999997 351.80400000000003H432.2" stroke="#111" stroke-width="0.7"/>
<rect x="429.09999999999997" y="346.548" width="3.6" height="3.6" fill="#000"/>
<path d="M436.2375 346.812V352.956M434.9375 346.812H437.5375M434.9375 352.956H437.5375" stroke="#111" stroke-width="0.7"/>
<rect x="434.4375" y="348.084" width="3.6" height="3.6" fill="#000"/>
<rect x="439.775" y="352.308" width="3.6" height="3.6" fill="#000"/>
<rect x="450.45" y="357.3" width="3.6" height="3.6" fill="#000"/>
<text x="357.4" y="378.4" font-size="6.2" font-weight="bold" text-anchor="start" fill="#050505" letter-spacing="0.45" stroke="#050505" stroke-width="0.24">log concentration of Taxol (nM)</text>
<path d="M232.9 310.6H241.70000000000002M232.9 321.5H241.70000000000002" stroke="#222" stroke-width="0.8"/>
<circle cx="237.3" cy="310.6" r="1.9" fill="#000"/><rect x="235.45000000000002" y="319.65" width="3.7" height="3.7" fill="#000"/>
<text x="247.3" y="312.8" font-size="7.0" font-weight="normal" text-anchor="start" fill="#222" textLength="22.5" lengthAdjust="spacing">Control</text>
<text x="247.3" y="323.7" font-size="7.0" font-weight="normal" text-anchor="start" fill="#222" textLength="44.5" lengthAdjust="spacing">DDX53 siRNA</text>
<path d="M493.0 306.5H501.79999999999995M493.0 317.1H501.79999999999995" stroke="#222" stroke-width="0.8"/>
<circle cx="497.4" cy="306.5" r="1.9" fill="#000"/><rect x="495.54999999999995" y="315.25" width="3.7" height="3.7" fill="#000"/>
<text x="507.1" y="308.7" font-size="6.7" font-weight="normal" text-anchor="start" fill="#222" textLength="21.6" lengthAdjust="spacing">Control</text>
<text x="507.1" y="319.3" font-size="6.7" font-weight="normal" text-anchor="start" fill="#222" textLength="35.5" lengthAdjust="spacing">DDX53 O/E</text>
<path d="M42.1 452H59.9M67.4 452H85.2" stroke="#222" stroke-width="1.3"/>
<text x="50.3" y="450.4" font-size="7.1" font-weight="bold" text-anchor="start" fill="#050505" transform="rotate(-35 50.3 450.4)" stroke="#050505" stroke-width="0.27">Control</text>
<text x="76.5" y="450.1" font-size="7.2" font-weight="bold" text-anchor="start" fill="#050505" transform="rotate(-34.5 76.5 450.1)" stroke="#050505" stroke-width="0.27">DDX53 siRNA</text>
<clipPath id="bCc0"><rect x="40.5" y="457.4" width="48.5" height="12.2"/></clipPath>
<g clip-path="url(#bCc0)">
<rect x="40.5" y="457.4" width="21.7" height="12.2" fill="#9ca4b2"/>
<rect x="62.2" y="457.4" width="26.8" height="12.2" fill="#b4bac6"/>
<g filter="url(#halo)">
<rect x="44.8" y="462.75" width="16.7" height="3.9" rx="1.95" fill="#000" opacity="0.35"/>
<rect x="45.5" y="459.6" width="15.5" height="3.6" rx="1.8" fill="#223" opacity="0.16"/>
<rect x="67" y="463.9" width="16.8" height="3.0" rx="1.5" fill="#334" opacity="0.19"/>
<rect x="66.6" y="463.1" width="3.9" height="2.6" rx="1.3" fill="#334" opacity="0.14"/>
<rect x="80" y="462.9" width="4.2" height="2.6" rx="1.3" fill="#334" opacity="0.16"/>
</g><g filter="url(#bl)">
<rect x="44.8" y="463.25" width="16.7" height="2.9" rx="1.45" fill="#000" opacity="1"/>
<rect x="45.5" y="460.1" width="15.5" height="2.6" rx="1.3" fill="#223" opacity="0.45"/>
<rect x="67" y="464.4" width="16.8" height="2.0" rx="1.0" fill="#334" opacity="0.55"/>
<rect x="66.6" y="463.6" width="3.9" height="1.6" rx="0.8" fill="#334" opacity="0.4"/>
<rect x="80" y="463.4" width="4.2" height="1.6" rx="0.8" fill="#334" opacity="0.45"/>
</g>
<rect x="42.4" y="459.3" width="44.7" height="8.4" fill="none" stroke="#fff" stroke-opacity="0.3" stroke-width="0.9"/>
</g>
<rect x="41.25" y="458.15" width="47.0" height="10.7" fill="none" stroke="#0a0a0a" stroke-width="1.5"/>
<clipPath id="bCc1"><rect x="40.5" y="474.5" width="48.5" height="14.8"/></clipPath>
<g clip-path="url(#bCc1)">
<rect x="40.5" y="474.5" width="48.5" height="14.8" fill="#c2cad6"/>
<g filter="url(#halo)">
<rect x="46.7" y="479.4" width="15.5" height="4.4" rx="2.2" fill="#000" opacity="0.35"/>
<rect x="64" y="479.25" width="16.6" height="4.3" rx="2.15" fill="#000" opacity="0.35"/>
</g><g filter="url(#bl)">
<rect x="46.7" y="479.9" width="15.5" height="3.4" rx="1.7" fill="#000" opacity="1"/>
<rect x="64" y="479.75" width="16.6" height="3.3" rx="1.65" fill="#000" opacity="1"/>
</g>
<rect x="42.4" y="476.4" width="44.7" height="11.0" fill="none" stroke="#fff" stroke-opacity="0.3" stroke-width="0.9"/>
</g>
<rect x="41.25" y="475.25" width="47.0" height="13.3" fill="none" stroke="#0a0a0a" stroke-width="1.5"/>
<text x="98" y="464.9" font-size="7.1" font-weight="bold" text-anchor="start" fill="#050505" stroke="#050505" stroke-width="0.27">MDR1 (170 kDa)</text>
<text x="98" y="485.3" font-size="7.1" font-weight="bold" text-anchor="start" fill="#050505" stroke="#050505" stroke-width="0.27">β-Actin (43 kDa)</text>
<text x="91.8" y="505.5" font-size="9" font-weight="bold" text-anchor="middle" fill="#050505" stroke="#050505" stroke-width="0.27">SNU-539</text>
<path d="M327.1 454.6H344.9M352.2 454.6H370" stroke="#3a3a3a" stroke-width="1.7"/>
<text x="334.8" y="452.2" font-size="6.85" font-weight="bold" text-anchor="start" fill="#050505" transform="rotate(-33.3 334.8 452.2)" stroke="#050505" stroke-width="0.27">Control</text>
<text x="361.3" y="450.8" font-size="6.85" font-weight="bold" text-anchor="start" fill="#050505" transform="rotate(-33 361.3 450.8)" stroke="#050505" stroke-width="0.27">DDX53 O/E</text>
<clipPath id="bDc0"><rect x="324.6" y="457.3" width="49.6" height="15.6"/></clipPath>
<g clip-path="url(#bDc0)">
<rect x="324.6" y="457.3" width="49.6" height="15.6" fill="#aab2c0"/>
<g filter="url(#halo)">
<rect x="330" y="464.0" width="16" height="4" rx="2.0" fill="#556" opacity="0.06"/>
<rect x="354.8" y="464.1" width="10.6" height="3.4" rx="1.7" fill="#050a18" opacity="0.35"/>
</g><g filter="url(#bl)">
<rect x="330" y="464.5" width="16" height="3" rx="1.5" fill="#556" opacity="0.18"/>
<rect x="354.8" y="464.6" width="10.6" height="2.4" rx="1.2" fill="#050a18" opacity="1"/>
</g>
<rect x="326.5" y="459.2" width="45.8" height="11.8" fill="none" stroke="#fff" stroke-opacity="0.3" stroke-width="0.9"/>
</g>
<rect x="325.35" y="458.05" width="48.1" height="14.1" fill="none" stroke="#0a0a0a" stroke-width="1.5"/>
<clipPath id="bDc1"><rect x="324.6" y="474.7" width="49.6" height="18.6"/></clipPath>
<g clip-path="url(#bDc1)">
<rect x="324.6" y="474.7" width="49.6" height="18.6" fill="#bcc6d2"/>
<g filter="url(#halo)">
<rect x="328.2" y="482.05" width="21.2" height="5.3" rx="2.65" fill="#000" opacity="0.35"/>
<rect x="347" y="481.65" width="21.6" height="5.3" rx="2.65" fill="#000" opacity="0.35"/>
</g><g filter="url(#bl)">
<rect x="328.2" y="482.55" width="21.2" height="4.3" rx="2.15" fill="#000" opacity="1"/>
<rect x="347" y="482.15" width="21.6" height="4.3" rx="2.15" fill="#000" opacity="1"/>
</g>
<rect x="326.5" y="476.6" width="45.8" height="14.8" fill="none" stroke="#fff" stroke-opacity="0.3" stroke-width="0.9"/>
</g>
<rect x="325.35" y="475.45" width="48.1" height="17.1" fill="none" stroke="#0a0a0a" stroke-width="1.5"/>
<text x="384" y="468.7" font-size="7.0" font-weight="bold" text-anchor="start" fill="#050505" stroke="#050505" stroke-width="0.27">MDR1 (170 kDa)</text>
<text x="384" y="486.5" font-size="7.0" font-weight="bold" text-anchor="start" fill="#050505" stroke="#050505" stroke-width="0.27">β-Actin (43 kDa)</text>
<text x="384.2" y="505.6" font-size="8.7" font-weight="bold" text-anchor="middle" fill="#050505" stroke="#050505" stroke-width="0.27">HEC-1</text>
<path d="M222.45 452.8905V442.5M218.53 442.5H226.36999999999998" stroke="#4a4a4a" stroke-width="0.7" fill="none"/>
<rect x="215.5" y="453.29" width="13.9" height="45.91" fill="#000" stroke="#111" stroke-width="1.15"/>
<path d="M245.5 476.78325V470.7M241.5 470.7H249.5" stroke="#4a4a4a" stroke-width="0.7" fill="none"/>
<rect x="238.4" y="477.18" width="14.2" height="22.02" fill="#a8a8a9" stroke="#111" stroke-width="1.15"/>
<path d="M205.8 425.4V499.2H261" stroke="#111" stroke-width="1.15" fill="none"/>
<path d="M202.8 499.2H205.8" stroke="#111" stroke-width="1"/>
<text x="201.50000000000003" y="501.036" font-size="5.1" font-weight="bold" text-anchor="end" fill="#050505" letter-spacing="0.3" stroke="#050505" stroke-width="0.24">0.0</text>
<path d="M202.8 480.75H205.8" stroke="#111" stroke-width="1"/>
<text x="201.50000000000003" y="482.586" font-size="5.1" font-weight="bold" text-anchor="end" fill="#050505" letter-spacing="0.3" stroke="#050505" stroke-width="0.24">0.2</text>
<path d="M202.8 462.29999999999995H205.8" stroke="#111" stroke-width="1"/>
<text x="201.50000000000003" y="464.13599999999997" font-size="5.1" font-weight="bold" text-anchor="end" fill="#050505" letter-spacing="0.3" stroke="#050505" stroke-width="0.24">0.4</text>
<path d="M202.8 443.84999999999997H205.8" stroke="#111" stroke-width="1"/>
<text x="201.50000000000003" y="445.686" font-size="5.1" font-weight="bold" text-anchor="end" fill="#050505" letter-spacing="0.3" stroke="#050505" stroke-width="0.24">0.6</text>
<path d="M202.8 425.4H205.8" stroke="#111" stroke-width="1"/>
<text x="201.50000000000003" y="427.236" font-size="5.1" font-weight="bold" text-anchor="end" fill="#050505" letter-spacing="0.3" stroke="#050505" stroke-width="0.24">0.8</text>
<path d="M222.45 499.2V502.2" stroke="#111" stroke-width="1"/>
<text x="224.14999999999998" y="506.9" font-size="5.95" font-weight="bold" text-anchor="end" fill="#050505" transform="rotate(-45 224.14999999999998 506.9)" stroke="#050505" stroke-width="0.24">Control</text>
<path d="M245.5 499.2V502.2" stroke="#111" stroke-width="1"/>
<text x="247.2" y="506.9" font-size="5.95" font-weight="bold" text-anchor="end" fill="#050505" transform="rotate(-45 247.2 506.9)" stroke="#050505" stroke-width="0.24">DDX53 siRNA</text>
<text x="189.3" y="477.6" font-size="5.1" font-weight="bold" text-anchor="start" fill="#050505" transform="rotate(-90 189.3 477.6)" textLength="31.8" lengthAdjust="spacing" stroke="#050505" stroke-width="0.24">MDR1/actin</text>
<text x="245" y="463" font-size="5.2" font-weight="bold" text-anchor="middle" fill="#222" letter-spacing="0.9" stroke="#222" stroke-width="0.24">*</text>
<path d="M506.95 484.03999999999996V481.4M502.97999999999996 481.4H510.92" stroke="#4a4a4a" stroke-width="0.7" fill="none"/>
<rect x="499.9" y="484.44" width="14.1" height="14.26" fill="#000" stroke="#111" stroke-width="1.15"/>
<path d="M529.85 454.2313333333333V449.6M525.88 449.6H533.82" stroke="#4a4a4a" stroke-width="0.7" fill="none"/>
<rect x="522.8" y="454.63" width="14.1" height="44.07" fill="#a8a8a9" stroke="#111" stroke-width="1.15"/>
<path d="M490.9 425.4V498.7H546.1" stroke="#111" stroke-width="1.15" fill="none"/>
<path d="M487.9 498.7H490.9" stroke="#111" stroke-width="1"/>
<text x="486.59999999999997" y="500.536" font-size="5.1" font-weight="bold" text-anchor="end" fill="#050505" letter-spacing="0.3" stroke="#050505" stroke-width="0.24">0.0</text>
<path d="M487.9 474.26666666666665H490.9" stroke="#111" stroke-width="1"/>
<text x="486.59999999999997" y="476.10266666666666" font-size="5.1" font-weight="bold" text-anchor="end" fill="#050505" letter-spacing="0.3" stroke="#050505" stroke-width="0.24">0.5</text>
<path d="M487.9 449.8333333333333H490.9" stroke="#111" stroke-width="1"/>
<text x="486.59999999999997" y="451.6693333333333" font-size="5.1" font-weight="bold" text-anchor="end" fill="#050505" letter-spacing="0.3" stroke="#050505" stroke-width="0.24">1.0</text>
<path d="M487.9 425.4H490.9" stroke="#111" stroke-width="1"/>
<text x="486.59999999999997" y="427.236" font-size="5.1" font-weight="bold" text-anchor="end" fill="#050505" letter-spacing="0.3" stroke="#050505" stroke-width="0.24">1.5</text>
<path d="M506.95 498.7V501.7" stroke="#111" stroke-width="1"/>
<text x="508.65" y="506.4" font-size="5.95" font-weight="bold" text-anchor="end" fill="#050505" transform="rotate(-45 508.65 506.4)" stroke="#050505" stroke-width="0.24">Control</text>
<path d="M529.85 498.7V501.7" stroke="#111" stroke-width="1"/>
<text x="531.5500000000001" y="506.4" font-size="5.95" font-weight="bold" text-anchor="end" fill="#050505" transform="rotate(-45 531.5500000000001 506.4)" stroke="#050505" stroke-width="0.24">DDX53 O/E</text>
<text x="474.3" y="476.8" font-size="5.1" font-weight="bold" text-anchor="start" fill="#050505" transform="rotate(-90 474.3 476.8)" textLength="31.5" lengthAdjust="spacing" stroke="#050505" stroke-width="0.24">MDR1/actin</text>
<text x="529.6" y="444" font-size="5.2" font-weight="bold" text-anchor="middle" fill="#222" letter-spacing="0.9" stroke="#222" stroke-width="0.24">***</text>
</g>
</svg>
</body></html>
